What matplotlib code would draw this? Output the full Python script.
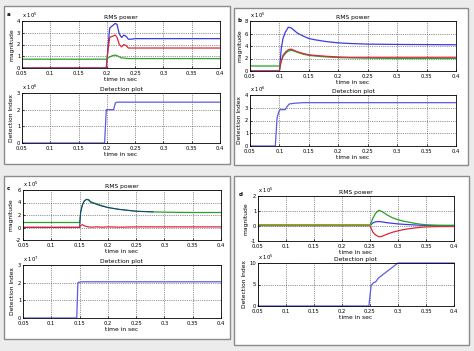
import matplotlib.pyplot as plt
from matplotlib.patches import Rectangle

# panel a - RMS power (x10^5) and detection index
a_t = [0.05, 0.199, 0.202, 0.205, 0.21, 0.215, 0.218, 0.222, 0.226, 0.23, 0.234, 0.238, 0.242, 0.25, 0.4]
a_blue = [0, 0, 1.8, 3.4, 3.6, 3.8, 3.7, 2.9, 2.6, 2.8, 2.7, 2.45, 2.45, 2.5, 2.5]
a_red = [0, 0, 1.5, 2.6, 2.7, 2.8, 2.6, 2.0, 1.8, 2.0, 1.9, 1.7, 1.7, 1.7, 1.7]
a_green = [0.75, 0.75, 0.85, 0.95, 1.05, 1.1, 1.05, 0.95, 0.85, 0.85, 0.82, 0.8, 0.8, 0.8, 0.8]
a_dt = [0.05, 0.196, 0.199, 0.212, 0.215, 0.218, 0.4]
a_det = [0, 0, 2.0, 2.0, 2.4, 2.45, 2.45]

# panel b
b_t = [0.05, 0.1, 0.103, 0.106, 0.11, 0.115, 0.12, 0.125, 0.13, 0.14, 0.15, 0.16, 0.18, 0.2, 0.22, 0.25, 0.3, 0.4]
b_blue = [0, 0, 3.5, 5.2, 6.2, 7.0, 6.9, 6.5, 6.1, 5.6, 5.2, 5.0, 4.7, 4.5, 4.4, 4.3, 4.25, 4.2]
b_red = [0, 0, 1.5, 2.5, 3.0, 3.4, 3.5, 3.3, 3.1, 2.8, 2.6, 2.5, 2.35, 2.25, 2.2, 2.2, 2.2, 2.2]
b_green = [0.8, 0.8, 1.6, 2.3, 2.8, 3.2, 3.3, 3.2, 3.0, 2.7, 2.5, 2.4, 2.25, 2.15, 2.1, 2.05, 2.0, 2.0]
b_dt = [0.05, 0.093, 0.096, 0.099, 0.101, 0.11, 0.113, 0.117, 0.125, 0.14, 0.4]
b_det = [0, 0, 2.2, 2.7, 2.85, 2.85, 3.1, 3.3, 3.35, 3.4, 3.4]

# panel c
c_t = [0.05, 0.15, 0.152, 0.155, 0.158, 0.162, 0.166, 0.17, 0.18, 0.19, 0.2, 0.22, 0.25, 0.28, 0.3, 0.35, 0.4]
c_blue = [0, 0, 2.5, 3.6, 4.2, 4.5, 4.4, 4.0, 3.7, 3.4, 3.2, 2.9, 2.6, 2.5, 2.45, 2.4, 2.4]
c_green = [0.8, 0.8, 2.5, 3.6, 4.2, 4.5, 4.45, 4.1, 3.8, 3.5, 3.2, 2.9, 2.6, 2.5, 2.45, 2.4, 2.4]
c_red = [0.05, 0.05, 0.35, 0.45, 0.3, 0.15, 0.1, 0.05, 0.1, 0.05, 0.1, 0.05, 0.1, 0.1, 0.1, 0.1, 0.1]
c_dt = [0.05, 0.145, 0.147, 0.152, 0.4]
c_det = [0, 0, 2.0, 2.05, 2.05]

# panel d
d_t = [0.05, 0.25, 0.255, 0.26, 0.266, 0.272, 0.28, 0.29, 0.3, 0.31, 0.32, 0.33, 0.34, 0.35, 0.37, 0.4]
d_green = [0.05, 0.05, 0.5, 0.85, 1.05, 0.95, 0.75, 0.55, 0.42, 0.32, 0.25, 0.18, 0.12, 0.08, 0.05, 0.05]
d_red = [0.03, 0.03, -0.4, -0.6, -0.72, -0.68, -0.55, -0.42, -0.32, -0.24, -0.18, -0.13, -0.09, -0.06, -0.04, -0.03]
d_blue = [0.03, 0.03, 0.2, 0.28, 0.3, 0.27, 0.22, 0.18, 0.14, 0.11, 0.09, 0.07, 0.05, 0.04, 0.03, 0.02]
d_dt = [0.05, 0.248, 0.252, 0.256, 0.26, 0.265, 0.27, 0.275, 0.28, 0.285, 0.29, 0.295, 0.3, 0.4]
d_det = [0, 0, 4.8, 5.4, 5.6, 6.5, 7.0, 7.5, 8.0, 8.5, 9.0, 9.5, 10, 10]

xticks = [0.05, 0.1, 0.15, 0.2, 0.25, 0.3, 0.35, 0.4]
xlabels = ['0.05', '0.1', '0.15', '0.2', '0.25', '0.3', '0.35', '0.4']

BLUE = '#3b3be0'
RED = '#d8283c'
GREEN = '#2aa02a'
DBLUE = '#5a5ae6'
LW = 0.9

W, H = 474, 351
fig = plt.figure(figsize=(4.74, 3.51), dpi=100)
fig.patch.set_facecolor('#ececec')


def box(x0, y0, x1, y1):
    fig.add_artist(Rectangle((x0 / W, 1 - y1 / H), (x1 - x0) / W, (y1 - y0) / H,
                             transform=fig.transFigure, facecolor='white',
                             edgecolor='#8c8c8c', linewidth=1.0, zorder=0))


def mkax(x0, y0, x1, y1, ylim, yticks, expo, title, ylabel):
    ax = fig.add_axes([x0 / W, 1 - y1 / H, (x1 - x0) / W, (y1 - y0) / H])
    ax.set_xlim(0.05, 0.4)
    ax.set_ylim(*ylim)
    ax.set_xticks(xticks)
    ax.set_xticklabels(xlabels)
    ax.set_yticks(yticks)
    ax.set_yticklabels([str(v) for v in yticks])
    ax.tick_params(labelsize=3.8, length=1.5, width=0.5, direction='in')
    ax.tick_params(axis='x', pad=2.2)
    ax.tick_params(axis='y', pad=1.2)
    ax.grid(True, linestyle=':', color='#333333', linewidth=0.5)
    for s in ax.spines.values():
        s.set_linewidth(0.6)
    ax.set_title(title, fontsize=4.3, pad=1.5)
    ax.set_xlabel('time in sec', fontsize=4.3, labelpad=1)
    ax.set_ylabel(ylabel, fontsize=4.3, labelpad=2)
    ax.text(0.0, 1.02, r'x 10$^{%d}$' % expo, transform=ax.transAxes,
            fontsize=3.8, ha='left', va='bottom')
    return ax


# panel frames
box(4, 6, 230, 164)
box(234, 8, 468, 165)
box(4, 176, 230, 339)
box(234, 176, 469, 345)

fig.text(7 / W, 1 - 16 / H, 'a', fontsize=4, fontweight='bold')
fig.text(238 / W, 1 - 22 / H, 'b', fontsize=4, fontweight='bold')
fig.text(7 / W, 1 - 190 / H, 'c', fontsize=4, fontweight='bold')
fig.text(239 / W, 1 - 196 / H, 'd', fontsize=4, fontweight='bold')

# a
ax = mkax(22, 21, 220, 68, (0, 4), [0, 1, 2, 3, 4], 5, 'RMS power', 'magnitude')
ax.plot(a_t, a_blue, color=BLUE, lw=LW)
ax.plot(a_t, a_red, color=RED, lw=LW)
ax.plot(a_t, a_green, color=GREEN, lw=LW)
ax = mkax(22, 93, 220, 143, (0, 3), [0, 1, 2, 3], 6, 'Detection plot', 'Detection Index')
ax.plot(a_dt, a_det, color=DBLUE, lw=LW)

# b
ax = mkax(250, 21, 456, 71, (0, 8), [0, 2, 4, 6, 8], 5, 'RMS power', 'magnitude')
ax.plot(b_t, b_blue, color=BLUE, lw=LW)
ax.plot(b_t, b_green, color=GREEN, lw=LW)
ax.plot(b_t, b_red, color=RED, lw=LW)
ax = mkax(250, 95, 456, 146, (0, 4), [0, 1, 2, 3, 4], 6, 'Detection plot', 'Detection Index')
ax.plot(b_dt, b_det, color=DBLUE, lw=LW)

# c
ax = mkax(23, 190, 221, 240, (-2, 6), [-2, 0, 2, 4, 6], 5, 'RMS power', 'magnitude')
ax.plot(c_t, c_green, color=GREEN, lw=LW)
ax.plot(c_t[:14], c_blue[:14], color='#1a3a8a', lw=0.7)
ax.plot(c_t, c_red, color=RED, lw=LW)
ax = mkax(23, 265, 221, 318, (0, 3), [0, 1, 2, 3], 7, 'Detection plot', 'Detection Index')
ax.plot(c_dt, c_det, color=DBLUE, lw=LW)

# d
ax = mkax(258, 196, 454, 241, (-1, 2), [-1, 0, 1, 2], 5, 'RMS power', 'magnitude')
ax.plot(d_t, d_blue, color=BLUE, lw=LW)
ax.plot(d_t, d_red, color=RED, lw=LW)
ax.plot(d_t, d_green, color=GREEN, lw=LW)
ax.plot(d_t[:2], [0.04, 0.04], color='#8a9a20', lw=1.2)
ax = mkax(258, 263, 454, 306, (0, 10), [0, 5, 10], 5, 'Detection plot', 'Detection Index')
ax.plot(d_dt, d_det, color=DBLUE, lw=LW, clip_on=False)

fig.savefig('out.png', dpi=100, facecolor=fig.get_facecolor())
